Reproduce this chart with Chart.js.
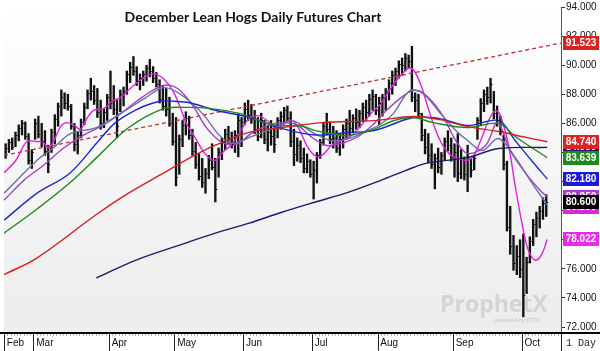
<!DOCTYPE html>
<html>
<head>
<meta charset="utf-8">
<title>December Lean Hogs Daily Futures Chart</title>
<script src="https://cdn.jsdelivr.net/npm/chart.js@4.4.0/dist/chart.umd.min.js"></script>
<style>
  html, body { margin: 0; padding: 0; background: #fff; }
  #wrap { width: 600px; height: 351px; }
</style>
</head>
<body>
<div id="wrap"><canvas id="hogChart" width="600" height="351"></canvas></div>
<script>
// ---- DATA ----
// one entry per trading day, Feb -> Oct
const highs = [
  84.6, 84.9, 85.0, 85.4, 85.9, 86.2, 86.1, 85.3, 84.2,
  86.3, 86.5, 86.0, 85.5, 84.5, 85.6, 86.6, 87.4, 88.3, 88.1, 88.0, 87.3, 86.0, 85.4, 86.3, 87.4, 88.3, 89.1, 88.6, 88.4, 87.6, 87.0, 88.0,
  89.6, 88.6, 87.6, 88.3, 88.5, 89.6, 90.2, 90.6, 89.9, 89.4, 89.6, 90.0, 90.4, 89.9, 89.5, 89.0, 88.6, 88.4, 87.8, 86.7,
  86.4, 85.2, 86.2, 86.8, 86.5, 85.6, 84.7, 83.9, 83.6, 82.9, 83.8, 84.6, 83.6, 84.3, 85.0, 85.6, 85.8, 85.4, 85.5, 86.7, 86.4,
  87.4, 87.6, 87.3, 86.9, 86.4, 86.7, 86.2, 85.8, 86.2, 85.9, 86.4, 86.8, 87.1, 87.2, 86.8, 85.6, 85.0, 84.8, 84.3, 83.9, 83.5,
  83.4, 84.0, 84.9, 86.0, 86.7, 86.1, 85.8, 85.5, 85.3, 85.9, 86.3, 86.9, 86.6, 87.0, 86.9, 87.4, 87.6, 88.0, 88.3, 88.0,
  87.8, 88.0, 88.4, 89.0, 89.6, 89.8, 90.3, 90.5, 90.8, 90.7, 91.3, 88.1, 88.0, 86.7, 85.6, 85.3, 84.6, 83.9, 84.3, 84.0, 85.0, 85.5, 85.0,
  84.6, 85.3, 84.2, 83.7, 84.5, 83.6, 83.8, 86.4, 87.7, 88.3, 88.5, 89.1, 88.2, 87.2, 86.5, 85.2, 83.4, 80.3, 78.3, 77.6, 78.0,
  78.4, 76.8, 78.2, 79.4, 79.9, 80.3, 80.9, 81.1
];
const lows = [
  83.6, 84.0, 84.2, 84.4, 84.8, 85.2, 84.9, 83.2, 82.9,
  84.9, 85.0, 84.4, 83.8, 82.6, 84.0, 84.6, 85.8, 86.5, 87.0, 86.9, 85.6, 84.1, 83.9, 85.0, 85.9, 87.0, 87.6, 87.3, 86.4, 85.6, 85.7, 86.2,
  87.0, 86.6, 85.0, 86.8, 87.2, 88.0, 88.8, 89.3, 88.6, 88.3, 88.6, 88.9, 89.2, 88.8, 88.5, 87.4, 86.9, 86.5, 85.8, 84.5,
  81.7, 82.5, 84.4, 85.2, 84.9, 83.8, 82.9, 82.1, 81.6, 81.2, 82.2, 82.8, 80.6, 82.3, 83.5, 84.2, 84.6, 84.3, 84.0, 83.7, 84.4,
  85.9, 86.2, 86.0, 85.3, 84.8, 85.0, 84.6, 84.1, 84.5, 84.0, 85.0, 85.6, 86.0, 86.1, 84.4, 83.1, 83.4, 83.3, 82.6, 82.6, 82.3,
  80.8, 81.9, 83.6, 84.5, 85.2, 84.6, 84.3, 84.0, 83.8, 84.3, 84.9, 85.2, 85.4, 85.6, 85.7, 86.1, 86.2, 86.5, 86.9, 86.6,
  85.9, 86.5, 86.9, 87.6, 88.0, 88.6, 89.1, 89.3, 89.6, 89.8, 87.5, 86.8, 86.4, 84.8, 83.9, 83.3, 82.9, 81.5, 82.6, 82.5, 83.5, 84.1, 83.4,
  82.3, 82.0, 82.2, 82.1, 81.3, 82.3, 82.8, 84.9, 85.9, 86.8, 87.3, 87.4, 86.3, 85.8, 85.2, 82.8, 78.6, 77.0, 75.9, 75.6, 75.4,
  72.7, 74.3, 76.4, 77.6, 78.2, 78.8, 79.4, 79.6
];
const closes = [
  84.3, 84.7, 84.4, 85.2, 85.7, 86.0, 85.1, 83.5, 84.0,
  86.0, 85.3, 84.8, 84.1, 83.2, 85.4, 86.3, 87.2, 87.8, 87.4, 87.2, 85.8, 84.6, 85.2, 86.1, 87.1, 88.1, 88.2, 87.6, 86.8, 86.0, 86.8, 87.8,
  87.4, 87.0, 85.8, 88.0, 88.2, 89.4, 89.9, 89.6, 88.9, 89.1, 89.4, 89.8, 89.6, 89.1, 88.7, 87.7, 87.2, 87.0, 86.0, 84.8,
  82.3, 84.9, 85.9, 86.4, 85.2, 84.1, 83.2, 82.4, 82.0, 82.6, 83.5, 83.0, 81.5, 84.0, 84.8, 85.3, 85.0, 84.6, 85.2, 86.2, 86.1,
  87.0, 86.6, 86.4, 85.6, 85.1, 86.2, 84.9, 85.4, 85.1, 84.6, 86.2, 86.5, 86.9, 86.4, 84.8, 83.9, 84.5, 83.6, 82.9, 83.4, 82.5,
  82.8, 83.8, 84.7, 85.8, 85.6, 84.9, 85.0, 84.3, 84.9, 85.6, 86.0, 85.7, 86.4, 86.1, 86.7, 87.1, 86.8, 87.7, 87.9, 86.9,
  87.4, 87.8, 88.2, 88.8, 89.3, 89.6, 90.1, 90.0, 90.5, 90.3, 87.8, 87.6, 86.7, 85.2, 84.4, 83.8, 83.2, 83.6, 83.0, 83.8, 84.8, 84.5, 83.7,
  84.0, 82.6, 83.6, 82.5, 83.7, 82.8, 83.6, 86.2, 87.4, 88.0, 87.8, 88.7, 86.7, 86.2, 85.5, 83.2, 78.9, 77.6, 76.4, 76.9, 76.0,
  74.2, 76.5, 77.9, 79.1, 79.5, 80.0, 80.5, 80.6
];

// moving averages and trend line: [trading-day index, price]
const maFast = [ // magenta
  [0, 82.6], [3.6, 83.45], [7, 84.75], [10, 84.75], [12, 84.7], [13.6, 84.3], [15.2, 84.8], [17.3, 85.8],
  [19.1, 86.05], [21.2, 85.9], [23.3, 85.6], [25.2, 86.3], [27.3, 86.9], [30.3, 87.0], [33.3, 87.56],
  [35.5, 87.77], [38.5, 88.4], [42.4, 89.1], [45.5, 89.4], [48.5, 89.1], [51.5, 88.25], [53.6, 87.2],
  [56, 85.85], [58.5, 84.96], [60.6, 84.14], [62.7, 83.6], [64.5, 83.45], [66.7, 84.0], [69.7, 84.6],
  [72.7, 85.64], [74.8, 86.33], [77.3, 86.53], [80.3, 86.2], [83.3, 85.64], [85.8, 86.0], [87.9, 86.2],
  [90, 85.64], [92.4, 84.48], [94.8, 83.8], [97, 83.8], [100, 84.48], [103, 84.82], [106, 85.16],
  [109, 85.85], [112, 86.67], [115, 87.36], [118, 88.4], [121, 89.27], [123.6, 89.8], [125.2, 89.6],
  [127.3, 88.6], [129.7, 86.88], [131.8, 85.5], [133.9, 84.48], [136.4, 83.8], [138.5, 83.6], [140.9, 83.45],
  [143, 83.66], [145.5, 84.82], [147.9, 86.2], [150, 86.88], [151.5, 86.53], [154, 84.48], [156, 81.74],
  [158.2, 79.0], [160, 77.3], [162.1, 76.6], [164, 76.95], [165.8, 78.022]
];
const maPurple = [
  [0, 80.71], [6, 82.08], [12, 83.1], [18, 84.27], [24, 85.16], [30, 85.85], [36, 86.74], [42, 87.77],
  [48.5, 88.6], [53, 88.4], [57.6, 87.22], [62, 85.64], [66.7, 84.68], [71.2, 84.6], [75.8, 85.37],
  [80.3, 85.85], [84.8, 86.05], [89.4, 85.9], [94, 85.03], [98.5, 84.48], [103, 84.62], [107.6, 85.03],
  [112, 85.78], [116.7, 86.88], [121.2, 87.77], [124.8, 88.25], [127.9, 88.1], [133.3, 86.74], [137.9, 84.82],
  [141.5, 83.93], [147, 84.48], [150.6, 86.05], [154.5, 84.14], [159, 82.63], [163.6, 81.4], [165.8, 80.95]
];
const maSlate = [
  [0, 81.19], [10, 83.45], [15.2, 84.34], [20.3, 85.3], [28.2, 85.71], [35.5, 86.67], [43.3, 87.77],
  [48.5, 88.45], [53.6, 88.04], [60.6, 86.67], [65.8, 85.16], [69.7, 84.62], [74.8, 85.03], [82.7, 85.71],
  [87.9, 86.19], [94.8, 85.3], [100, 84.82], [105.2, 84.96], [111.2, 85.51], [115.2, 85.99], [118.8, 86.67],
  [123.9, 88.25], [127.9, 88.04], [133, 86.74], [137.9, 85.51], [141.5, 84.82], [146, 84.14], [150.9, 84.96],
  [156, 83.66], [161.2, 81.88], [165.8, 80.4]
];
const maBlue = [
  [0, 79.34], [10, 81.19], [20, 82.56], [28.5, 84.7], [34, 86.05], [40, 86.9], [45.5, 87.4], [49, 87.56],
  [53, 87.5], [57, 87.4], [64.5, 86.9], [75, 86.4], [85, 85.64], [95, 85.2], [105, 85.37], [113, 85.51],
  [125, 86.4], [133, 86.33], [141.5, 85.85], [151, 86.19], [156, 84.82], [161, 83.45], [165.8, 82.18]
];
const maGreen = [
  [0, 78.45], [10, 80.1], [20, 81.9], [29, 83.8], [38, 85.7], [48.5, 87.0], [55, 87.1], [62, 87.05],
  [72, 86.67], [82, 85.9], [91, 85.8], [95, 85.5], [100, 85.3], [105, 85.16], [113, 85.6], [119, 86.2],
  [125, 86.4], [131, 86.05], [141.5, 85.71], [151, 86.0], [156, 85.1], [165.8, 83.639]
];
const maRed = [
  [0, 75.6], [10, 76.74], [28, 79.7], [38, 81.2], [48.5, 82.56], [57, 83.66], [64.5, 84.5], [75, 85.4],
  [85, 85.71], [97, 86.05], [113, 86.19], [125, 86.47], [133, 86.26], [141.5, 85.78], [151, 85.44],
  [158, 85.1], [165.8, 84.74]
];
const maNavy = [
  [28.2, 75.37], [40.3, 76.6], [54.5, 77.7], [64.5, 78.45], [74.8, 79.14], [84.8, 79.89], [94.8, 80.58],
  [105, 81.26], [115, 82.08], [122.7, 82.77], [128.8, 83.25], [141.5, 83.66], [151, 84.27], [165.8, 84.35]
];
const trendLine = [[0, 83.8], [170, 91.523]];

// axis labels
const monthStarts = [0, 9, 32, 52, 73, 94, 114, 137, 158];
const monthNames = ['Feb', 'Mar', 'Apr', 'May', 'Jun', 'Jul', 'Aug', 'Sep', 'Oct'];
const priceTicks = [72, 74, 76, 78, 80, 82, 84, 86, 88, 90, 92, 94];

// last-value boxes on the price axis (drawn in this order)
const lastValues = [84.35, 80.95, 80.25, 91.523, 84.740, 83.639, 82.180, 80.600, 78.022];
const lastColors = ['#1c1c78', '#b03ad0', '#d82ad8', '#e02020', '#dc2222', '#1e8a1e', '#1a1ad8', '#000000', '#ec28ec'];

// ---- PLUGINS ----
const FONT = '"Liberation Sans", Arial, sans-serif';

const background = {
    id: 'background',
    beforeDraw(chart) {
        const { ctx, chartArea: a, width, height } = chart;
        ctx.save();
        ctx.fillStyle = '#fff';
        ctx.fillRect(0, 0, width, height);
        const g = ctx.createLinearGradient(0, a.top, 0, a.bottom);
        g.addColorStop(0, '#ffffff');
        g.addColorStop(1, '#ececec');
        ctx.fillStyle = g;
        ctx.fillRect(a.left, 0, a.right - a.left, a.bottom);
        ctx.restore();
    },
    beforeDatasetsDraw(chart) {
        // ProphetX watermark
        const { ctx } = chart;
        ctx.save();
        ctx.fillStyle = '#d4d4d4';
        ctx.font = 'bold 23px "Open Sans", sans-serif';
        ctx.textBaseline = 'alphabetic';
        ctx.fillText('ProphetX', 440, 312);
        ctx.font = '6px ' + FONT;
        ctx.fillStyle = '#c4c4c4';
        ctx.fillText('powered by DTN', 494, 322);
        ctx.restore();
    }
};

const closeTicks = {
    id: 'closeTicks',
    afterDatasetsDraw(chart) {
        const { ctx, scales: { x, y } } = chart;
        ctx.save();
        ctx.strokeStyle = '#111';
        ctx.lineWidth = 1;
        closes.forEach((c, i) => {
            const px = x.getPixelForValue(i + 0.5);
            const py = Math.round(y.getPixelForValue(c)) + 0.5;
            ctx.beginPath();
            ctx.moveTo(px, py);
            ctx.lineTo(px + 2, py);
            ctx.stroke();
        });
        ctx.restore();
    }
};

const frame = {
    id: 'frame',
    afterDraw(chart) {
        const { ctx, chartArea: a, width, height, scales: { x, y } } = chart;
        ctx.save();
        // daily minor ticks under the axis line
        ctx.strokeStyle = '#b0b0b0';
        ctx.lineWidth = 1;
        for (let i = 0; i < 170; i++) {
            const px = Math.round(x.getPixelForValue(i)) + 0.5;
            ctx.beginPath();
            ctx.moveTo(px, a.bottom + 1);
            ctx.lineTo(px, a.bottom + 3);
            ctx.stroke();
        }
        // month separators
        ctx.strokeStyle = '#222';
        monthStarts.forEach(m => {
            const px = Math.round(x.getPixelForValue(m)) + 0.5;
            ctx.beginPath();
            ctx.moveTo(px, a.bottom);
            ctx.lineTo(px, height);
            ctx.stroke();
        });
        // axis separator + thick bottom line
        ctx.beginPath();
        ctx.moveTo(a.right + 0.5, a.bottom);
        ctx.lineTo(a.right + 0.5, height);
        ctx.stroke();
        ctx.fillStyle = '#000';
        ctx.fillRect(0, a.bottom - 1, width, 2);
        // interval label
        ctx.font = '10px "Liberation Mono", "DejaVu Sans Mono", monospace';
        ctx.textBaseline = 'middle';
        ctx.fillStyle = '#222';
        ctx.fillText('1 Day', a.right + 5, a.bottom + 10);

        // title
        ctx.font = 'bold 14px Lato, "Open Sans", sans-serif';
        ctx.textAlign = 'center';
        ctx.fillStyle = '#111';
        ctx.fillText('December Lean Hogs Daily Futures Chart', 253, 17);

        // last-value boxes
        ctx.font = 'bold 10px ' + FONT;
        lastValues.forEach((v, i) => {
            const py = Math.round(y.getPixelForValue(v));
            ctx.fillStyle = lastColors[i];
            ctx.fillRect(a.right + 2, py - 7, 36, 14);
            ctx.fillStyle = '#fff';
            ctx.fillText(v.toFixed(3), a.right + 20, py + 0.5);
        });
        ctx.restore();
    }
};

// ---- CHART ----
function lineSet(points, color, width, dash) {
    return {
        type: 'line',
        data: points.map(p => ({ x: p[0], y: p[1] })),
        borderColor: color,
        borderWidth: width,
        borderDash: dash || [],
        pointRadius: 0,
        tension: 0.35,
        order: 1
    };
}

const ctx = document.getElementById('hogChart').getContext('2d');
const hogChart = new Chart(ctx, {
    type: 'bar',
    data: {
        datasets: [
            {
                type: 'bar',
                data: highs.map((h, i) => ({ x: i + 0.5, y: [lows[i], h] })),
                backgroundColor: '#111',
                barThickness: 1.7,
                grouped: false,
                order: 10
            },
            lineSet(maNavy, '#1b1b6e', 1.4),
            lineSet(maRed, '#d42020', 1.4),
            lineSet(maGreen, '#1f8a1f', 1.4),
            lineSet(maBlue, '#1a2ad0', 1.4),
            lineSet(maSlate, '#6a70a8', 1.4),
            lineSet(maPurple, '#a63cc8', 1.4),
            lineSet(maFast, '#e020e0', 1.4),
            lineSet(trendLine, '#c03030', 1.3, [4, 3])
        ]
    },
    options: {
        responsive: false,
        animation: false,
        devicePixelRatio: 1,
        layout: { padding: { top: 6, left: 0, right: 0, bottom: 0 } },
        plugins: {
            legend: { display: false },
            title: { display: false },
            tooltip: { enabled: false }
        },
        scales: {
            x: {
                type: 'linear',
                min: 0,
                max: 170,
                offset: false,
                grid: { display: false, drawTicks: false, offset: false },
                border: { display: false },
                afterFit: s => { s.height = 18; },
                afterBuildTicks: s => { s.ticks = monthStarts.map(v => ({ value: v })); },
                ticks: {
                    autoSkip: false,
                    maxRotation: 0,
                    align: 'start',
                    padding: 4,
                    color: '#111',
                    font: { size: 10, family: FONT },
                    callback: (v) => ' ' + monthNames[monthStarts.indexOf(v)]
                }
            },
            y: {
                type: 'linear',
                position: 'right',
                min: 71.59,
                max: 94,
                afterFit: s => { s.width = 39; },
                afterBuildTicks: s => { s.ticks = priceTicks.map(v => ({ value: v })); },
                grid: { drawOnChartArea: false, drawTicks: true, tickLength: 4, color: '#333' },
                border: { display: true, color: '#555' },
                ticks: {
                    padding: 1,
                    color: '#111',
                    font: { size: 10, family: FONT },
                    callback: v => v.toFixed(3)
                }
            }
        }
    },
    plugins: [background, closeTicks, frame]
});
</script>
</body>
</html>
